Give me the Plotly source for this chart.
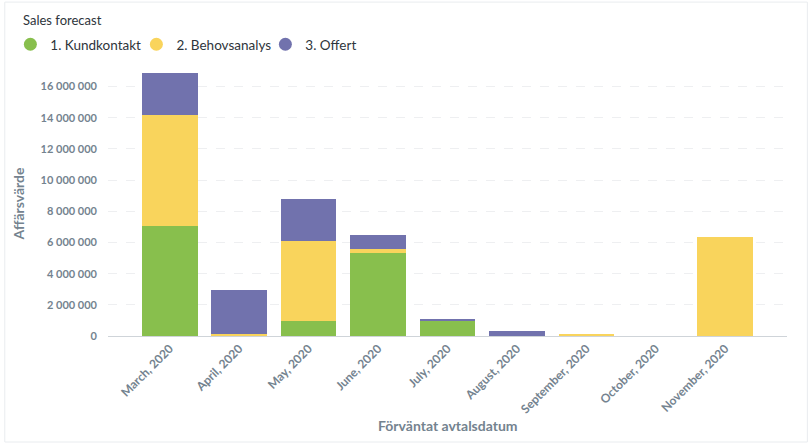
import plotly.graph_objects as go

# Data
months = ["March, 2020", "April, 2020", "May, 2020", "June, 2020", "July, 2020",
          "August, 2020", "September, 2020", "October, 2020", "November, 2020"]
kundkontakt = [7070000, 0, 960000, 5310000, 960000, 0, 0, 0, 0]
behovsanalys = [7130000, 150000, 5140000, 280000, 0, 0, 130000, 0, 6360000]
offert = [2700000, 2810000, 2700000, 900000, 150000, 320000, 0, 0, 0]

series_names = ["1. Kundkontakt", "2. Behovsanalys", "3. Offert"]
series_values = [kundkontakt, behovsanalys, offert]
colors = ["#88bf4d", "#f9d45c", "#7172ad"]

label_color = "#74838f"
font = "Lato"

fig = go.Figure()

legend_ids = ["legend", "legend2", "legend3"]
legend_x = [-0.1421, 0.0432, 0.2329]

for name, vals, col, lid in zip(series_names, series_values, colors, legend_ids):
    fig.add_trace(go.Bar(
        x=months, y=vals, name=name,
        marker=dict(color=col, line=dict(width=0)),
        showlegend=False,
    ))
    # circle markers for the legend, one legend box per series
    fig.add_trace(go.Scatter(
        x=[None], y=[None], mode="markers", name=name,
        marker=dict(color=col, size=13, symbol="circle"),
        showlegend=True, legend=lid,
    ))

# card border
card = dict(type="rect", xref="paper", yref="paper",
            x0=-0.152, x1=1.03, y0=-0.40, y1=1.26,
            line=dict(color="#e9ecef", width=1), fillcolor="rgba(0,0,0,0)",
            layer="below")

legend_style = dict(orientation="h", y=1.10, xanchor="left", yanchor="middle",
                    font=dict(family=font, size=13.5, color="#2e353b"),
                    itemwidth=30, bgcolor="rgba(0,0,0,0)")

fig.update_layout(
    width=812, height=445,
    margin=dict(l=107, r=25, t=71, b=109),
    paper_bgcolor="white", plot_bgcolor="white",
    barmode="stack", bargap=0.2,
    separators=", ",
    font=dict(family=font, color=label_color),
    shapes=[card],
    showlegend=True,
    legend=dict(x=legend_x[0], **legend_style),
    legend2=dict(x=legend_x[1], **legend_style),
    legend3=dict(x=legend_x[2], **legend_style),
    annotations=[
        dict(text="Sales forecast", xref="paper", yref="paper",
             x=-0.128, y=1.192, yanchor="middle", xanchor="left",
             showarrow=False,
             font=dict(family=font, size=13, color="#2e353b")),
        dict(text="<b>Förväntat avtalsdatum</b>", xref="paper", yref="paper",
             x=0.5, y=-0.336, xanchor="center", yanchor="middle",
             showarrow=False,
             font=dict(family=font, size=14, color=label_color)),
    ],
    xaxis=dict(
        range=[-0.89, 8.89],
        tickangle=-45,
        tickfont=dict(family=font, size=12, color=label_color, weight="bold"),
        showline=True, linecolor="#cfd4d9", linewidth=1,
        ticks="", showgrid=False, automargin=False,
    ),
    yaxis=dict(
        range=[0, 17000000],
        tickvals=[0, 2000000, 4000000, 6000000, 8000000, 10000000, 12000000,
                  14000000, 16000000],
        tickformat=",d",
        tickfont=dict(family=font, size=11, color=label_color, weight="bold"),
        showgrid=True, gridcolor="#eeeff1", griddash="dash", gridwidth=1,
        zeroline=False, showline=False, ticks="", ticklabelstandoff=10,
        automargin=False,
        title=dict(text="Affärsvärde", standoff=12,
                   font=dict(family=font, size=14, color=label_color, weight="bold")),
    ),
)

fig.write_html("out.html", config={"displayModeBar": False},
               post_script="document.body.style.margin='0';")
